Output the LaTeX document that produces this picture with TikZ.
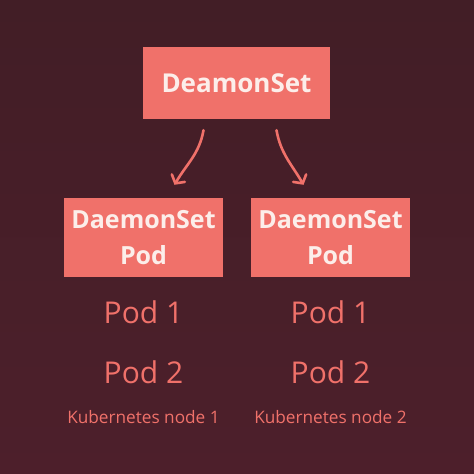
\documentclass[tikz,border=0pt]{standalone}
\usepackage{fontspec}
\setmainfont{Open Sans}
\usetikzlibrary{arrows.meta,positioning}
\definecolor{bgtop}{HTML}{421E26}
\definecolor{bgbot}{HTML}{4D1F2B}
\definecolor{salmon}{HTML}{F0716A}
\definecolor{boxtext}{HTML}{FCEEEA}
\tikzstyle{box} = [fill=salmon, rectangle, text=boxtext,
    font=\bfseries\fontsize{25}{36}\selectfont, align=center]
\tikzstyle{podlabel} = [text=salmon, anchor=base, inner sep=0pt]
\tikzset{
  spawn/.style={salmon, line width=2.6pt, line cap=round,
    -{Straight Barb[length=6pt,width=15pt,line cap=round]}},
}

\begin{document}
\begin{tikzpicture}[x=1pt, y=-1pt]
          \fill[top color=bgtop, bottom color=bgbot] (0,0) rectangle (474,474);
          \useasboundingbox (0,0) rectangle (474,474);

          \node (ds) [box, minimum width=187pt, minimum height=72pt,
              font=\bfseries\fontsize{26}{30}\selectfont] at (236.5,83) {DeamonSet};
          \node (left) [box, minimum width=159pt, minimum height=79pt] at (143.5,237.5) {DaemonSet\\Pod};
          \node (right) [box, minimum width=159pt, minimum height=79pt] at (330.5,237.5) {DaemonSet\\Pod};

          \node (lpodone) [podlabel, font=\fontsize{30}{34}\selectfont] at (143.5,323) {Pod 1};
          \node (lpodtwo) [podlabel, font=\fontsize{30}{34}\selectfont] at (143.5,383) {Pod 2};
          \node (lnode) [podlabel, font=\fontsize{17.2}{20}\selectfont] at (143.5,423) {Kubernetes node 1};
          \node (rpodone) [podlabel, font=\fontsize{30}{34}\selectfont] at (330.5,323) {Pod 1};
          \node (rpodtwo) [podlabel, font=\fontsize{30}{34}\selectfont] at (330.5,383) {Pod 2};
          \node (rnode) [podlabel, font=\fontsize{17.2}{20}\selectfont] at (330.5,423) {Kubernetes node 2};

          \draw [spawn] ([xshift=-33pt,yshift=-11pt]ds.south) to[out=-100,in=60] ([xshift=31pt,yshift=13pt]left.north);
          \draw [spawn] ([xshift=40pt,yshift=-11pt]ds.south) to[out=-80,in=120] ([xshift=-27pt,yshift=13pt]right.north);
        \end{tikzpicture}
\end{document}
